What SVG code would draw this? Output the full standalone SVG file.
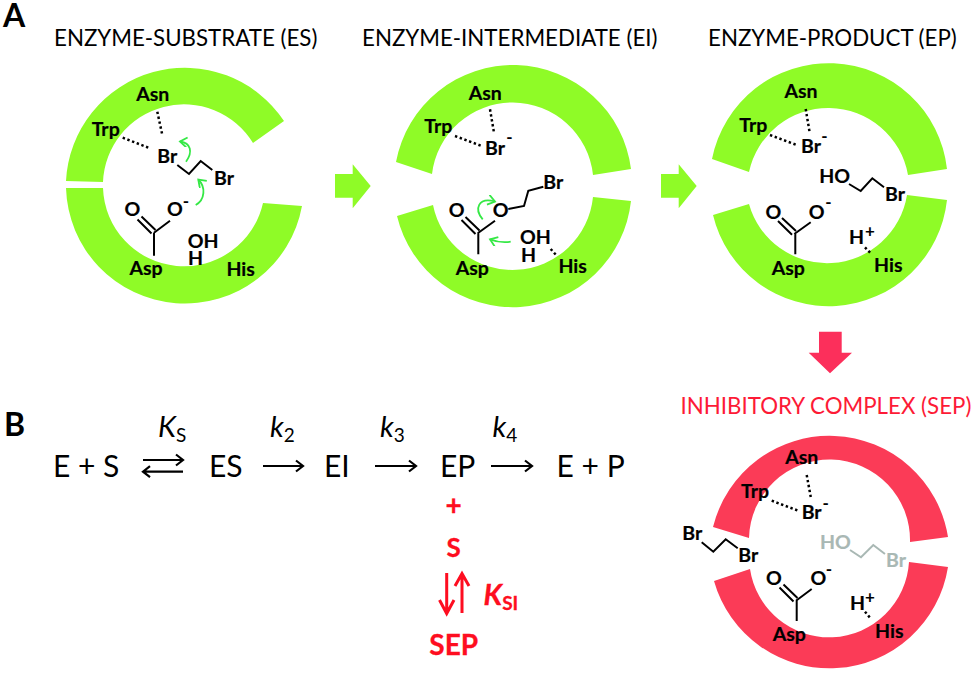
<svg xmlns="http://www.w3.org/2000/svg" width="975" height="675" viewBox="0 0 975 675">
<style>
text{font-family:"Lato","Carlito","Open Sans",sans-serif;fill:#000}
.g{fill:#8ffb27}.r{fill:#fb3b57}.ra2{fill:#fc2f5b}
.t{font-size:22.3px}.rt{fill:#fd1a36}
.l{font-size:19.5px;font-weight:700;text-anchor:middle;stroke:#000;stroke-width:.2}
.a{font-size:19.5px;font-weight:700;stroke:#000;stroke-width:.2}.m{text-anchor:middle}
.c{font-size:17px;font-weight:700;text-anchor:middle}
.b{fill:none;stroke:#000;stroke-width:2;stroke-linejoin:miter}
.d{fill:none;stroke:#000;stroke-width:2.5;stroke-dasharray:2.4 2.6}
.ga{fill:none;stroke:#35e845;stroke-width:1.8;marker-end:url(#gh)}
.eq{font-size:30px}.it{font-size:29px;font-style:italic}.sub{font-size:19px}
.ar{fill:none;stroke:#000;stroke-width:2.2}
.ra{fill:none;stroke:#fe0d20;stroke-width:3}
.rx{fill:#fe0d20;font-weight:700;stroke:#fe0d20;stroke-width:.3}
.gy{fill:#a9b8b4;stroke:#a9b8b4}
</style>
<defs>
<marker id="gh" markerUnits="userSpaceOnUse" markerWidth="12" markerHeight="12" refX="8" refY="5" orient="auto"><path d="M1 0L8 5L1 10" fill="none" stroke="#35e845" stroke-width="1.8"/></marker>
</defs>
<g id="panel-labels">
<text x="3" y="27" font-size="32" font-weight="700">A</text>
<text x="4" y="436" font-size="32" font-weight="700">B</text>
</g>
<g id="titles">
<text class="t" x="54" y="46">ENZYME-SUBSTRATE (ES)</text>
<text class="t" x="362" y="46">ENZYME-INTERMEDIATE (EI)</text>
<text class="t" x="708" y="46">ENZYME-PRODUCT (EP)</text>
<text class="t rt" x="680.500" y="414">INHIBITORY COMPLEX (SEP)</text>
</g>
<g id="transition-arrows">
<path class="g" d="M335 174H352.700V164.300L370.700 186L352.700 208.300V197.700H335Z"/>
<path class="g" d="M661 174H678.700V164.300L696.700 186L678.700 208.300V197.700H661Z"/>
<path class="ra2" d="M819 331.700H841.700V352.700H852L830 373.300L808.700 352.700H819Z"/>
</g>
<g id="es">
<path class="g" d="M66 181A119 119 0 0 1 284 121L253 143A81 81 0 0 0 103 182Z"/>
<path class="g" d="M66 188L103 188A81 81 0 0 0 263 203L302 206A119 119 0 0 1 66 188Z"/>
<text class="l" x="152.700" y="100.700">Asn</text><text class="l" x="105.700" y="136">Trp</text>
<path class="d" d="M157.300 111.700L162.300 135M122.700 137.700L150 148.300"/>
<text class="l" x="167.300" y="162.700">Br</text><text class="l" x="224" y="185">Br</text>
<path class="b" d="M177.300 165L189 174L200.700 161L212.300 170"/>
<path class="ga" d="M186 161.700C193 152 191 143 180 141.500"/>
<path class="ga" d="M195.700 205C205 200 206 187 198.300 179.500"/>
<text class="l" x="132.300" y="216">O</text><text class="l" x="175" y="216">O</text><text class="c" x="186" y="207">-</text>
<path class="b" d="M154 232.700L170 220.700M154 255.700V232.700M151.500 233.500L137.500 219.500M155.500 230L141.500 216.500"/>
<text class="a" x="187.700" y="248">OH</text><text class="a" x="188" y="265">H</text>
<text class="l" x="146" y="275">Asp</text><text class="l" x="240.700" y="275.700">His</text>
</g>
<g id="ei">
<path class="g" d="M396 162A119 119 0 0 1 631 169L593 175A81 81 0 0 0 432 174Z"/>
<path class="g" d="M397 216L433 205A81 81 0 0 0 593 197L631 201A119 119 0 0 1 397 216Z"/>
<text class="l" x="485.300" y="99.500">Asn</text><text class="l" x="438.300" y="133.300">Trp</text>
<path class="d" d="M490 109.300L494 132.700M455 136L481.700 146"/>
<text class="l" x="495" y="155">Br</text><text class="c" x="509.300" y="143">-</text>
<text class="l" x="553.300" y="189">Br</text>
<path class="b" d="M508.300 209L524 206L528.300 190.700L543.300 186.700"/>
<text class="l" x="456.700" y="216.700">O</text><text class="l" x="500.700" y="216.700">O</text>
<path class="b" d="M477.700 233.300L495 220.700M478.300 254.300V233.300M475.500 234L461.500 220M479.500 230.500L465.500 217"/>
<path class="ga" d="M482.700 219.300C474 209 478 197 495 201.500"/>
<path class="ga" d="M510.700 241.700C503 243 497 242 490 239.300"/>
<text class="a" x="520" y="244">OH</text><text class="a" x="521" y="262">H</text>
<path class="d" d="M550.700 249L556.700 255.700"/>
<text class="l" x="472.300" y="275">Asp</text><text class="l" x="572.700" y="272.700">His</text>
</g>
<g id="ep">
<path class="g" d="M712 159A119 119 0 0 1 947 169L908 175A81 81 0 0 0 749 172Z"/>
<path class="g" d="M713 215L749 204A81 81 0 0 0 907 195L947 200A119 119 0 0 1 713 215Z"/>
<text class="l" x="801" y="98.300">Asn</text><text class="l" x="753.300" y="132">Trp</text>
<path class="d" d="M805.700 109L809.700 132.700M770 135L796.700 145"/>
<text class="l" x="811" y="153.300">Br</text><text class="c" x="824.300" y="142">-</text>
<text class="a" x="819.300" y="182.700">HO</text>
<path class="b" d="M849 184L860.700 191L872.300 178.300L884 187.300"/>
<text class="l" x="895" y="200.700">Br</text>
<text class="l" x="773.300" y="219.300">O</text><text class="l" x="816.700" y="219.300">O</text><text class="c" x="828.300" y="208">-</text>
<path class="b" d="M794.300 234L810.700 222.300M795.300 254.300V234M792 234.700L778 221M796 231L782 218"/>
<text class="a" x="849" y="244">H</text><text class="c" x="870" y="236.500">+</text>
<path class="d" d="M865 247.300L870.700 253.300"/>
<text class="l" x="788.300" y="275">Asp</text><text class="l" x="888.300" y="272">His</text>
</g>
<g id="sep">
<path class="r" d="M713 527A120 120 0 0 1 948 537L910 542A80 80 0 0 0 749 538Z"/>
<path class="r" d="M714 581L750 569A80 80 0 0 0 909 562L948 567A120 120 0 0 1 714 581Z"/>
<text class="l" x="801.700" y="464.300">Asn</text><text class="l" x="755" y="498.300">Trp</text>
<path class="d" d="M806.700 475L811 498.300M771.700 500.700L798.300 510.700"/>
<text class="l" x="811.700" y="519.300">Br</text><text class="c" x="825.700" y="509">-</text>
<text class="l" x="692.300" y="540">Br</text><text class="l" x="748.300" y="562.300">Br</text>
<path class="b" d="M701.700 542.300L713.300 551.700L725.700 539.300L737.700 548.300"/>
<text class="a gy" x="820" y="549">HO</text>
<path class="b" style="stroke:#a9b8b4" d="M850 550L861 557.300L873.300 545L885 554"/>
<text class="l gy" x="896" y="566.700">Br</text>
<text class="l" x="774" y="585">O</text><text class="l" x="818.300" y="585">O</text><text class="c" x="829" y="574.500">-</text>
<path class="b" d="M796 600.700L811.700 589M796.700 621V600.700M793.500 601.500L779.500 587.500M797.500 598L783.500 584.500"/>
<text class="a" x="850" y="610">H</text><text class="c" x="870" y="602.500">+</text>
<path class="d" d="M865 611.700L871 619"/>
<text class="l" x="789.300" y="640.700">Asp</text><text class="l" x="889.300" y="638.300">His</text>
</g>
<g id="scheme">
<text class="eq" x="53" y="476.700">E + S</text>
<text class="it" x="158" y="436.700">K<tspan class="sub" font-style="normal" dy="5">S</tspan></text>
<text class="eq" x="209" y="476.700">ES</text>
<text class="it" x="270" y="436.700">k<tspan class="sub" font-style="normal" dy="5">2</tspan></text>
<text class="eq" x="324" y="476.700">EI</text>
<text class="it" x="380" y="436.700">k<tspan class="sub" font-style="normal" dy="5">3</tspan></text>
<text class="eq" x="440" y="476.700">EP</text>
<text class="it" x="492.600" y="436.700">k<tspan class="sub" font-style="normal" dy="5">4</tspan></text>
<text class="eq" x="556.600" y="476.700">E + P</text>
<text class="rx m" x="453.700" y="515" font-size="28">+</text>
<text class="rx m" x="453.700" y="556.700" font-size="26">S</text>
<text class="rx m" x="453.700" y="655" font-size="28">SEP</text>
<text class="rx" x="483.600" y="605" font-size="29" font-style="italic">K<tspan font-size="19" font-style="normal" dy="5">SI</tspan></text>
</g>
<g id="connectors">
<path class="ar" d="M143 460H182M176 454.500L183 460L176 465.500"/>
<path class="ar" d="M183 471.700H144M150 466.200L143 471.700L150 477.200"/>
<path class="ar" d="M263 466H302M296 460.500L303 466L296 471.500"/>
<path class="ar" d="M375 466H415M409 460.500L416 466L409 471.500"/>
<path class="ar" d="M491 466H531M525 460.500L532 466L525 471.500"/>
<path class="ra" d="M446.700 573V612M439.500 600L446.700 613.500L454 600"/>
<path class="ra" d="M462 613V575M455 586L462 573.500L469 586"/>
</g>
</svg>
